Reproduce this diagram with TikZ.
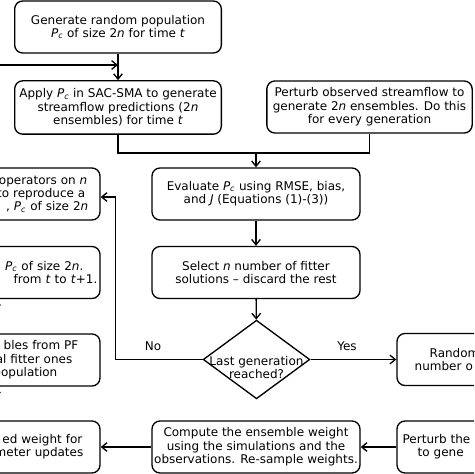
\documentclass[tikz,border=0pt]{standalone}
\usepackage{fontspec}
\setmainfont{DejaVu Sans}
\usepackage{tikz}
\usetikzlibrary{positioning, arrows.meta, shapes.geometric}

\newcommand{\pcvar}{\textit{P}\textsubscript{\textit{c}}}
\newcommand{\padr}[1]{\rule{#1}{0pt}}

\begin{document}
\begin{tikzpicture}[
    x=0.75pt, y=-0.75pt,
    font=\fontsize{9}{10}\selectfont,
    box/.style={draw, line width=1pt, rounded corners=6pt, minimum width=156pt, minimum height=39pt, inner xsep=1pt, inner ysep=2pt, align=center},
    leftbox/.style={box, text width=152pt, align=right},
    rightbox/.style={box, text width=152pt, align=left},
    decision/.style={draw, line width=1pt, diamond, minimum width=80pt, minimum height=59pt, inner sep=0pt},
    flow/.style={line width=1pt, -{Straight Barb[length=4pt, width=6.5pt]}},
    link/.style={line width=1pt},
    annotation/.style={font=\fontsize{9}{10}\selectfont}
]

% 画布
\useasboundingbox (0,0) rectangle (474,474);
\clip (0,0) rectangle (474,474);

% 中间一列
\node[box, minimum width=155pt] (genpop) at (118,27) {Generate random population\\ \pcvar{} of size 2\textit{n} for time \textit{t}};
\node[box, minimum width=155pt, minimum height=40pt] (apply) at (118,107.5) {Apply \pcvar{} in SAC-SMA to generate\\ streamflow predictions (2\textit{n}\\ ensembles) for time \textit{t}};
\node[box, minimum width=154pt] (perturbobs) at (369.5,107) {Perturb observed streamflow to\\ generate 2\textit{n} ensembles. Do this\\ for every generation};
\node[box] (evaluate) at (256,194) {Evaluate \pcvar{} using RMSE, bias,\\ and \textit{J} (Equations (1)-(3))};
\node[box] (select) at (256,272.5) {Select \textit{n} number of fitter\\ solutions -- discard the rest};
\node[decision] (lastgen) at (256.5,359.5) {};
\node[annotation, align=center] (lastgentext) at (256.5,367.5) {Last generation\\ reached?};
\node[box] (compute) at (256,447) {Compute the ensemble weight\\ using the simulations and the\\ observations. Re-sample weights.};

% 左边一列
\node[leftbox] (operators) at (-4,194) {operators on \textit{n}\padr{7.5pt}\\ to reproduce a\padr{9pt}\\ , \pcvar{} of size 2\textit{n}\padr{6.75pt}};
\node[leftbox] (newpc) at (-4,272.5) {\pcvar{} of size 2\textit{n}.\padr{10.5pt}\\ from \textit{t} to \textit{t}+1.};
\node[leftbox] (ensembles) at (-4,360) {bles from PF\padr{14.25pt}\\ al fitter ones\padr{18.75pt}\\ population\padr{30pt}};
\node[leftbox] (weight) at (-4,447) {ed weight for\padr{11.25pt}\\ meter updates\padr{10.5pt}};

% 右边一列
\node[rightbox] (random) at (501,359.5) {\padr{22.5pt}Random\\ \padr{11.25pt}number o};
\node[rightbox] (perturbthe) at (501,447) {\padr{2.25pt}Perturb the\\ \padr{13.5pt}to gene};

% 连线
\coordinate (loopin) at (-10,65);
\coordinate (merge) at (256,153);
\draw[flow] (genpop) -- (apply);
\draw[flow] (loopin) -- (genpop.south |- loopin);
\draw[link] (apply.south) |- (merge) -| (perturbobs.south);
\draw[flow] (merge) -- (evaluate.north);
\draw[flow] (evaluate) -- (select);
\draw[flow] (select) -- (lastgen);
\draw[flow] (lastgen.west) -- ++(-87,0) |- ([yshift=-2.25pt]operators.east);
\draw[flow] (lastgen.east) -- (random.west);
\draw[flow] (perturbthe.west) -- (compute.east);
\draw[flow] (compute.west) -- (weight.east);
\draw[flow] (weight) -- (ensembles);
\draw[flow] (ensembles) -- (newpc);

% 标注
\node[annotation] (no) at (153,346) {No};
\node[annotation] (yes) at (347,346) {Yes};

\end{tikzpicture}
\end{document}
